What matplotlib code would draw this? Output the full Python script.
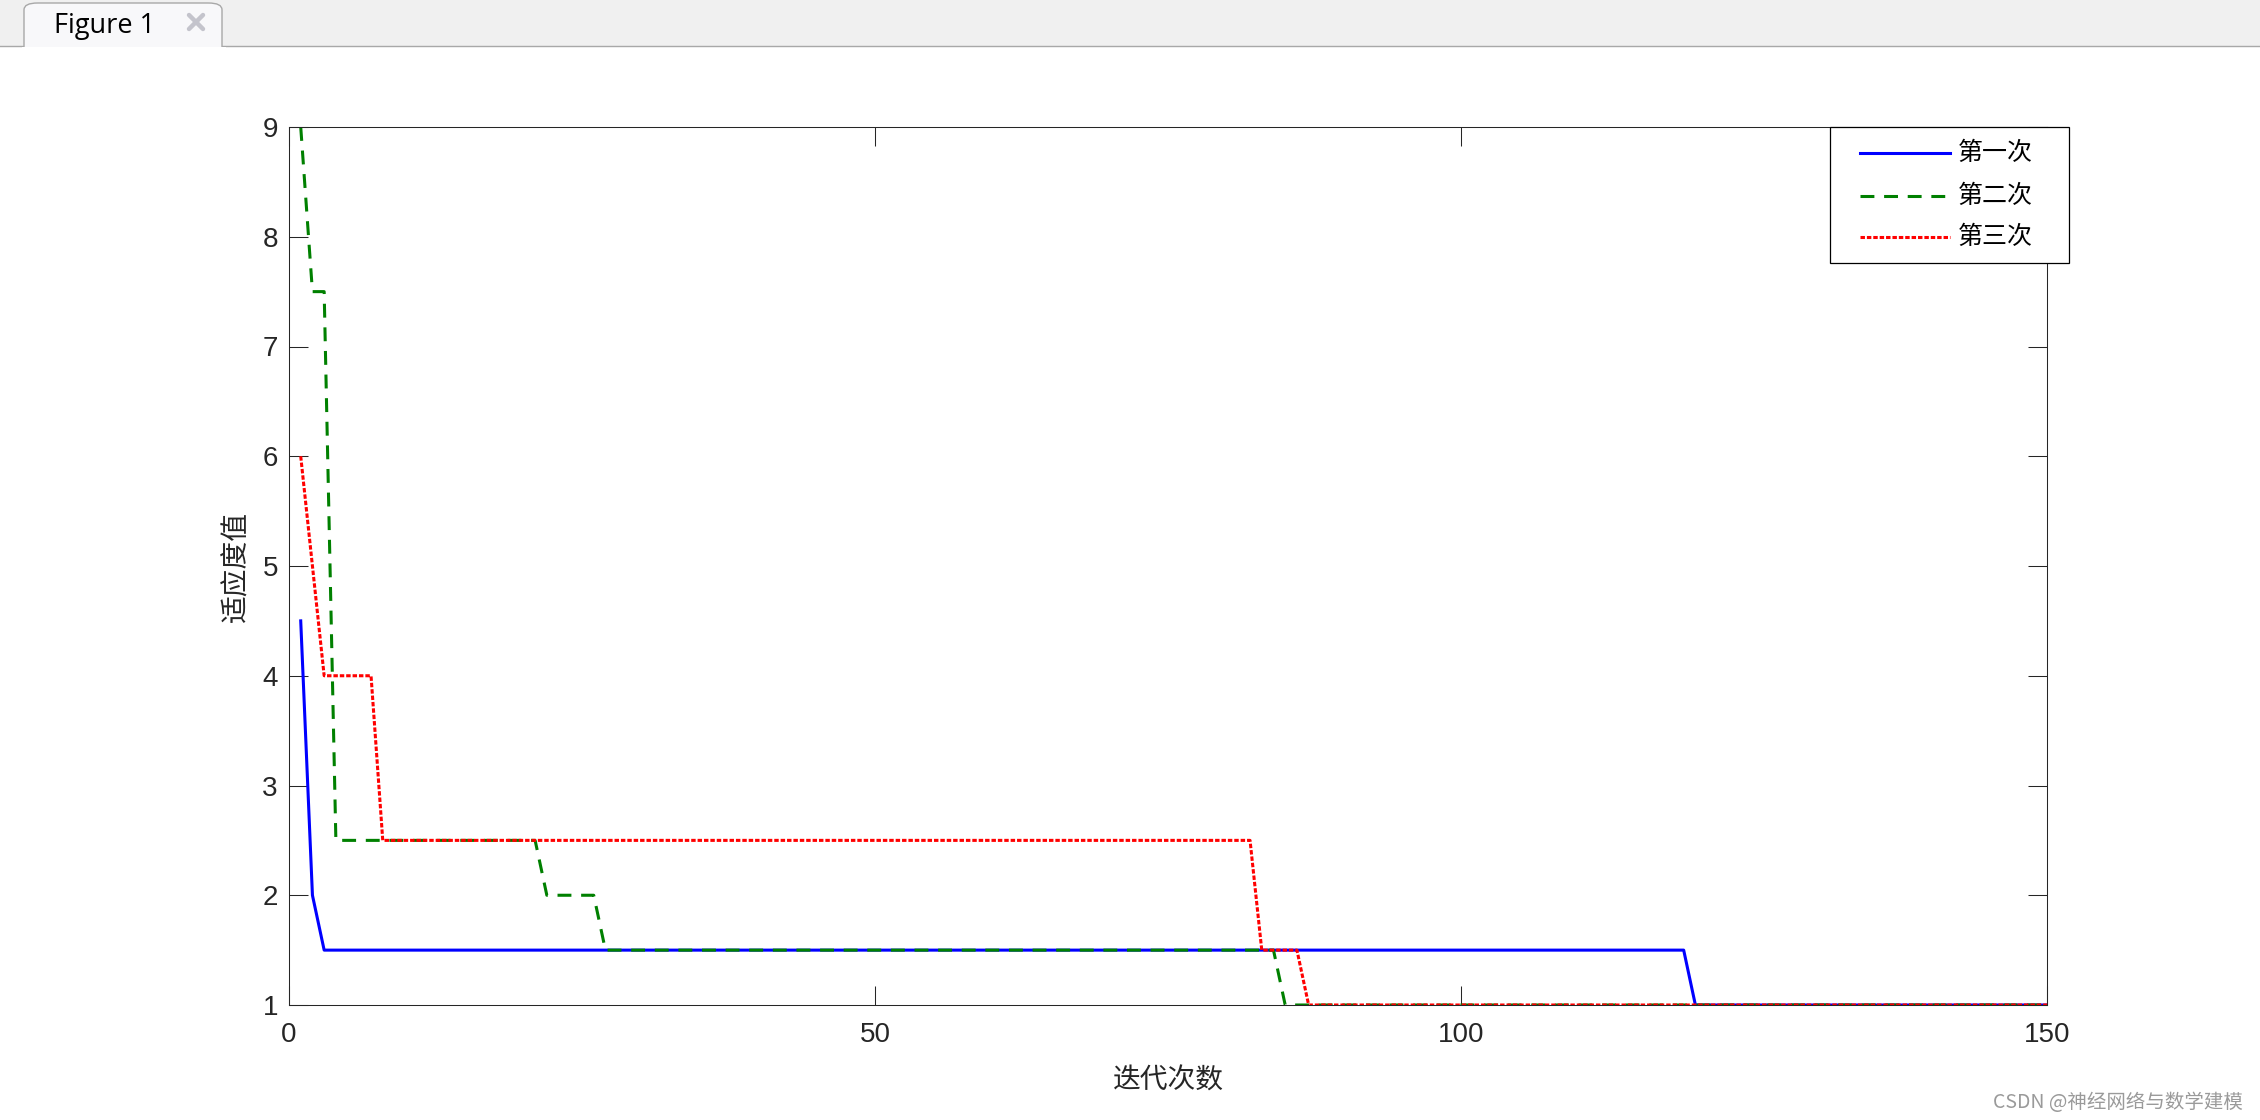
import matplotlib
matplotlib.use("Agg")
import matplotlib.pyplot as plt
from matplotlib.patches import Rectangle, FancyBboxPatch
from matplotlib.lines import Line2D

plt.rcParams['font.family'] = ['Liberation Sans', 'Noto Sans CJK SC', 'DejaVu Sans']
plt.rcParams['lines.scale_dashes'] = False

# breakpoints of each run (iteration, fitness)
iter_1 = [1, 2, 3, 119, 120, 150]
fit_1 = [4.5, 2, 1.5, 1.5, 1, 1]

iter_2 = [1, 2, 3, 4, 21, 22, 26, 27, 84, 85, 150]
fit_2 = [9, 7.5, 7.5, 2.5, 2.5, 2, 2, 1.5, 1.5, 1, 1]

iter_3 = [1, 2, 3, 7, 8, 82, 83, 86, 87, 150]
fit_3 = [6, 5, 4, 4, 2.5, 2.5, 1.5, 1.5, 1, 1]

series_labels = ['第一次', '第二次', '第三次']
x_ticks = [0, 50, 100, 150]
y_ticks = [1, 2, 3, 4, 5, 6, 7, 8, 9]

W, H = 2260, 1120
AX_COL = '#262626'
CJK = ['Noto Sans CJK SC', 'DejaVu Sans']
colors = ['#0000ff', '#008000', '#ff0000']
styles = ['-', (0, (10, 7)), (0, (3.2, 1.4))]


def fx(x):
    return x / W


def fy(y):
    return 1 - y / H


fig = plt.figure(figsize=(W / 100, H / 100), dpi=100)
fig.patch.set_facecolor('white')

# MATLAB window tab bar
fig.patches.append(Rectangle((0, fy(46)), 1, 46 / H, transform=fig.transFigure,
                             facecolor='#f0f0f0', edgecolor='none', zorder=0))
fig.lines.append(Line2D([0, 1], [fy(46), fy(46)], transform=fig.transFigure,
                        color='#a8a8a8', lw=1.0, zorder=1))
fig.patches.append(FancyBboxPatch((fx(24), fy(60)), fx(222) - fx(24), fy(3) - fy(60),
                                  boxstyle='round,pad=0,rounding_size=0.006',
                                  transform=fig.transFigure, facecolor='#f8f8fa',
                                  edgecolor='#a8a8a8', lw=1.0, zorder=2))
fig.patches.append(Rectangle((fx(22), fy(70)), fx(226) - fx(22), 23 / H,
                             transform=fig.transFigure, facecolor='white',
                             edgecolor='none', zorder=3))
fig.text(fx(54), fy(33), 'Figure 1', fontsize=19.5, family=['Open Sans', 'DejaVu Sans'],
         color='black', va='baseline', ha='left', zorder=4)
for dx in (-1, 1):
    fig.lines.append(Line2D([fx(189), fx(203)], [fy(22 - 7 * dx), fy(22 + 7 * dx)],
                            transform=fig.transFigure, color='#c4c4cc', lw=3.2,
                            solid_capstyle='round', zorder=4))

ax = fig.add_axes([289 / W, 1 - 1005 / H, (2047 - 289) / W, (1005 - 127) / H])

runs = [(iter_1, fit_1), (iter_2, fit_2), (iter_3, fit_3)]
for (xs, ys), c, ls in zip(runs, colors, styles):
    ax.plot(xs, ys, color=c, lw=2.2, linestyle=ls)

ax.set_xlim(0, 150)
ax.set_ylim(1, 9)
ax.set_xticks(x_ticks)
ax.set_yticks(y_ticks)
ax.tick_params(direction='in', length=13.5, width=0.75, colors=AX_COL,
               labelsize=20, top=True, right=True)
ax.tick_params(axis='x', pad=12)
ax.tick_params(axis='y', pad=8)
for s in ax.spines.values():
    s.set_color(AX_COL)
    s.set_linewidth(0.75)

ax.set_xlabel('迭代次数', fontsize=20, family=CJK, color=AX_COL, labelpad=13)
ax.set_ylabel('适应度值', fontsize=20, family=CJK, color=AX_COL, labelpad=8)

# legend box, drawn by hand (MATLAB puts it slightly past the right edge)
ax.add_patch(Rectangle((0.8766, 0.845), 0.1359, 0.155, transform=ax.transAxes,
                       facecolor='white', edgecolor='black', lw=0.9,
                       clip_on=False, zorder=5))
row_y = [0.9704, 0.9214, 0.8747]
for c, ls, label, yy in zip(colors, styles, series_labels, row_y):
    ax.add_line(Line2D([0.8936, 0.9448], [yy, yy], transform=ax.transAxes,
                       color=c, lw=2.2, linestyle=ls, clip_on=False, zorder=6))
    ax.text(0.9494, yy, label, transform=ax.transAxes, fontsize=18, family=CJK,
            color='black', va='center', ha='left', zorder=6)

fig.text(fx(2243), fy(1102), 'CSDN @神经网络与数学建模', fontsize=14,
         family=CJK, color='#9a9a9a', ha='right', va='center')

fig.savefig('out.png', dpi=100)
